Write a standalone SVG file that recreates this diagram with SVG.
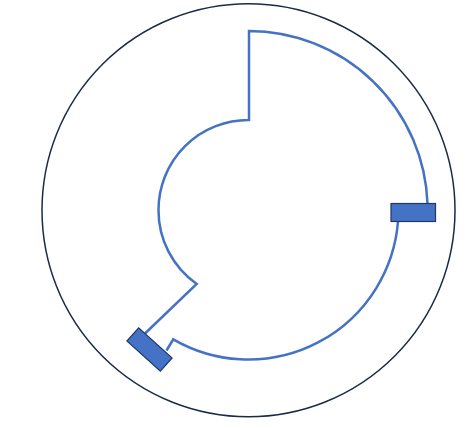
<svg xmlns="http://www.w3.org/2000/svg" width="474" height="430" viewBox="0 0 474 430">
<style>
.wire{fill:none;stroke:#4472C4;stroke-width:2.5;stroke-linejoin:miter}
.box{fill:#4472C4;stroke:#1F3864;stroke-width:1.2}
</style>
<rect width="474" height="430" fill="#ffffff"/>
<g id="outer">
<circle cx="248.5" cy="210.3" r="206.5" fill="none" stroke="#1B2A47" stroke-width="1.5"/>
</g>
<g id="connectors">
<path class="wire" d="M145,333.5 L196.7,284 A90 90 0 0 1 158.5,210 A90 90 0 0 1 249,120 L249,31 A179 179 0 0 1 427.5,203.5"/>
<path class="wire" d="M166.5,350.5 L173.3,339.3 A150 150 0 0 0 398,221.7"/>
</g>
<g id="box-right">
<rect class="box" x="391" y="203.5" width="44.5" height="18"/>
</g>
<g id="box-left">
<rect class="box" x="-22.5" y="-8.8" width="45" height="17.6" transform="translate(149.5,349.5) rotate(42)"/>
</g>
</svg>
